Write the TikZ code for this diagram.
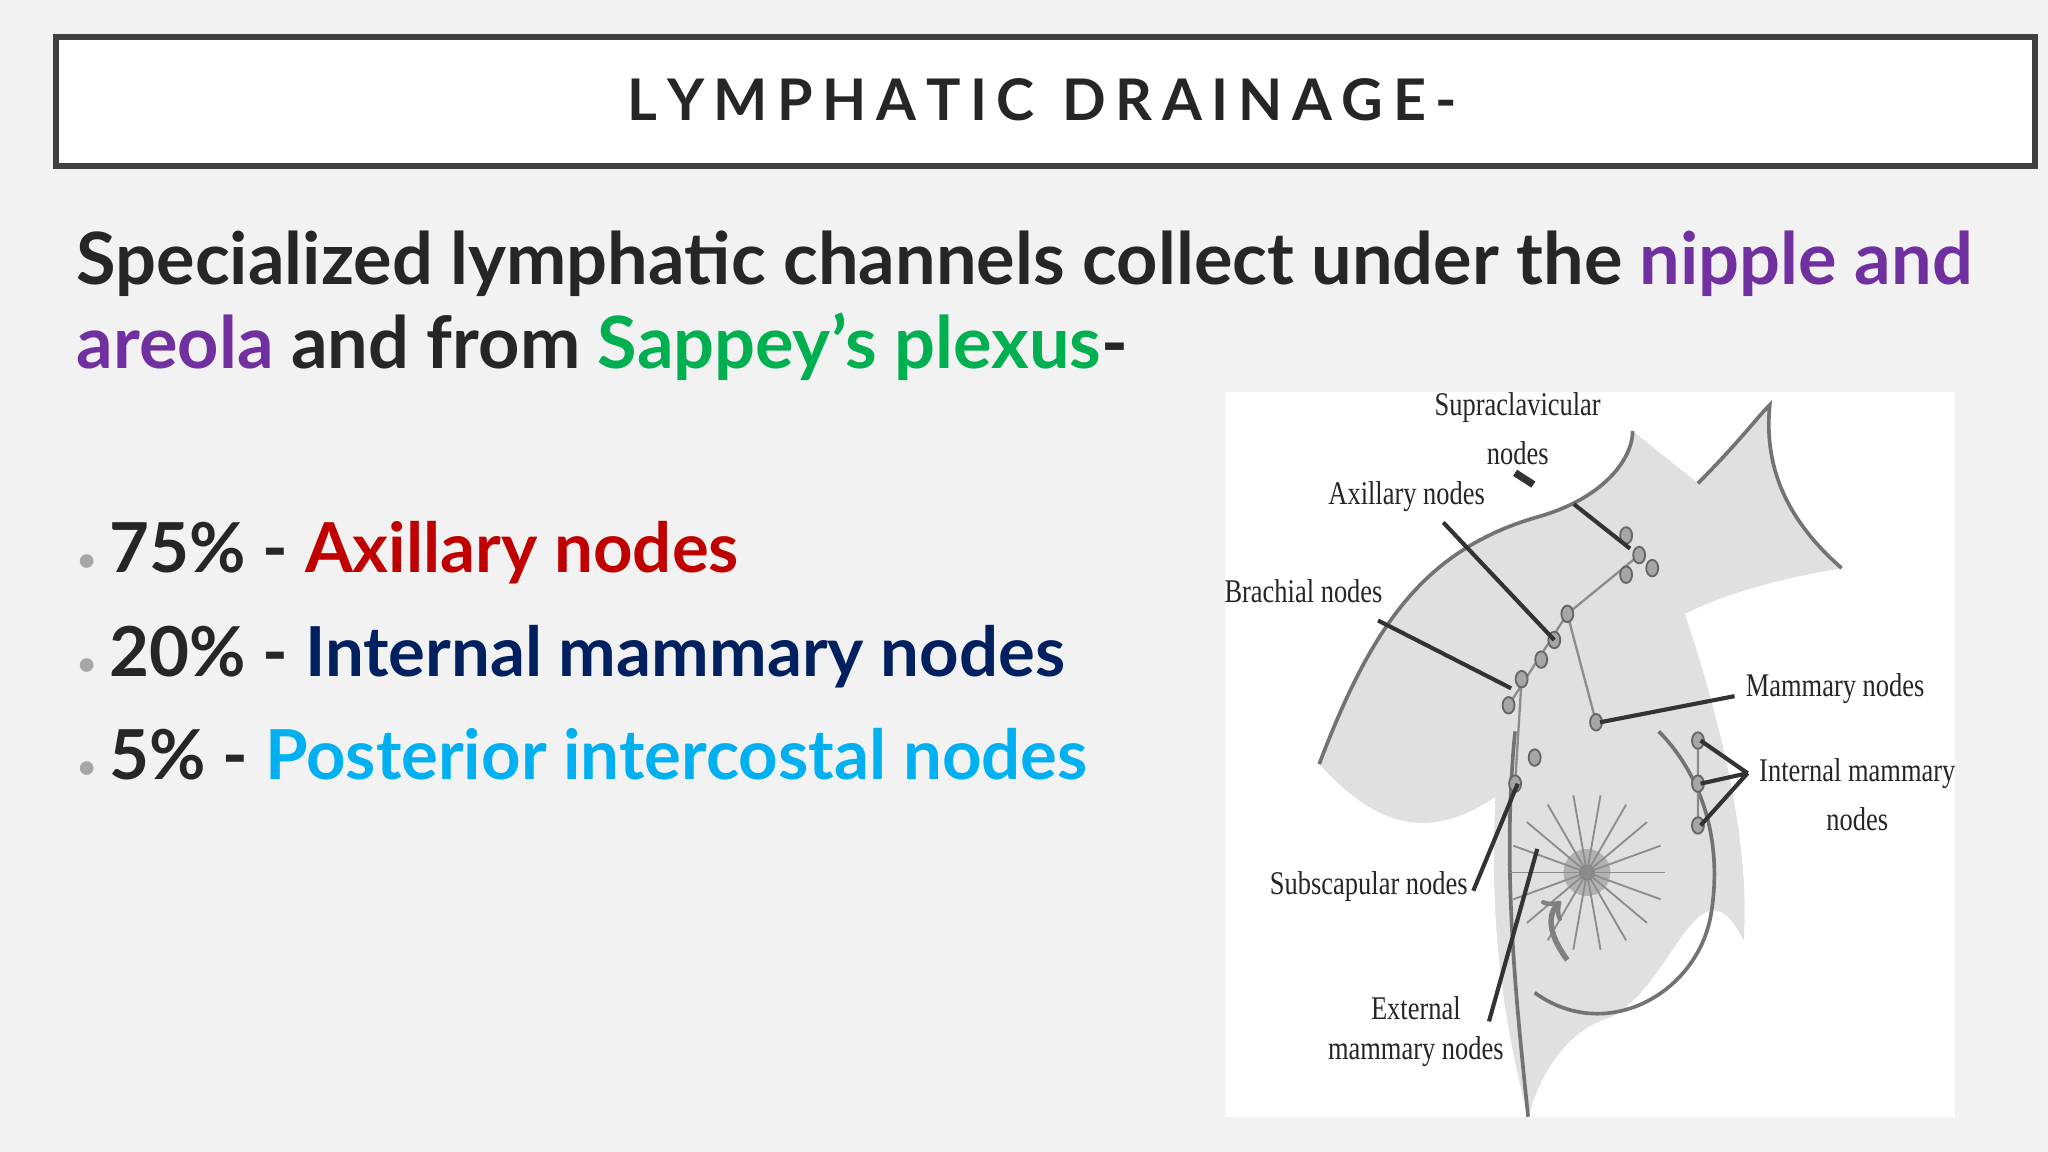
\documentclass[tikz,border=0pt]{standalone}
\usepackage{fontspec}
\usetikzlibrary{shapes.geometric}
\setmainfont{Lato}
\newfontfamily\lblfont{Liberation Serif}
\begin{document}
\begin{tikzpicture}[x=0.01cm,y=-0.01cm,
  lbl/.style={font=\lblfont\fontsize{7.2}{8}\selectfont,text=black!85,inner sep=0pt,xscale=0.8},
  lead/.style={draw=black!80,line width=0.9pt},
  lnode/.style={ellipse,draw=black!60,fill=black!35,minimum width=2.6pt,minimum height=3.6pt,inner sep=0pt},
  body/.style={draw=black!55,line width=0.8pt},
  big/.style={font=\bfseries\fontsize{15.7}{17}\selectfont,inner sep=0pt,anchor=base west},
  bul/.style={font=\bfseries\fontsize{15}{17}\selectfont,inner sep=0pt,anchor=base west}]
\useasboundingbox[fill=black!5] (0,0) rectangle (1568,882);
% title
\draw[draw=black!75,line width=1.3pt,fill=white] (43,28) rectangle (1558,127);
\node[font=\bfseries\fontsize{12.5}{14}\selectfont,text=black!85] (titletext) at (798,76) {L\,Y\,M\,P\,H\,A\,T\,I\,C\ \ D\,R\,A\,I\,N\,A\,G\,E\,-};
% text
\node[big,text=black!85] (l1) at (58,218) {Specialized lymphatic channels collect under the \textcolor[HTML]{7030A0}{nipple and}};
\node[big,text=black!85] (l2) at (58,282) {\textcolor[HTML]{7030A0}{areola} and from \textcolor[HTML]{00B050}{Sappey’s plexus}-};
\node[bul,text=black!85] (b1) at (58,438) {\textcolor{black!35}{\normalfont\footnotesize\textbullet}\,75\% - \textcolor[HTML]{C00000}{Axillary nodes}};
\node[bul,text=black!85] (b2) at (58,518) {\textcolor{black!35}{\normalfont\footnotesize\textbullet}\,20\% - \textcolor[HTML]{002060}{Internal mammary nodes}};
\node[bul,text=black!85] (b3) at (58,597) {\textcolor{black!35}{\normalfont\footnotesize\textbullet}\,5\% - \textcolor[HTML]{00B0F0}{Posterior intercostal nodes}};
% illustration
\fill[white] (938,300) rectangle (1497,855);
\fill[black!12] (1010,585) .. controls (1050,480) and (1090,420) .. (1180,395) .. controls (1230,380) and (1250,350) .. (1250,330) -- (1300,370) .. controls (1330,340) and (1345,320) .. (1355,310) .. controls (1350,360) and (1370,400) .. (1410,435) .. controls (1380,440) and (1330,450) .. (1290,470) .. controls (1320,560) and (1340,650) .. (1335,720) .. controls (1300,650) and (1280,760) .. (1230,780) .. controls (1200,790) and (1180,820) .. (1170,855) .. controls (1150,780) and (1140,700) .. (1145,610) .. controls (1100,640) and (1060,640) .. (1010,585) -- cycle;
\draw[body] (1010,585) .. controls (1050,480) and (1090,420) .. (1180,395) .. controls (1230,380) and (1250,350) .. (1250,330);
\draw[body] (1300,370) .. controls (1330,340) and (1345,320) .. (1355,310) .. controls (1350,360) and (1370,400) .. (1410,435);
\draw[body] (1160,560) .. controls (1150,660) and (1160,760) .. (1170,855);
\draw[body] (1175,760) .. controls (1230,800) and (1300,760) .. (1310,700) .. controls (1320,640) and (1300,590) .. (1270,560);
\fill[black!30] (1215,668) circle (18);
\fill[black!55] (1215,668) circle (6);
\foreach \a in {0,20,...,340}{\draw[black!45,line width=0.4pt] (1215,668) -- ++(\a:60);}
\draw[black!50,line width=1.2pt,->] (1200,735) .. controls (1185,715) and (1185,700) .. (1195,690);
% lymph nodes
\draw[black!45,line width=0.5pt] (1155,540) -- (1200,470) -- (1255,425) (1160,600) -- (1165,520) (1222,553) -- (1200,470) (1300,567) -- (1300,632);
\foreach \p in {(1245,410),(1255,425),(1265,435),(1245,440),(1200,470),(1190,490),(1180,505),(1165,520),(1155,540),(1160,600),(1175,580),(1222,553),(1300,567),(1300,600),(1300,632)}{\node[lnode] at \p {};}
% labels
\node[lbl] (sup1) at (1162,312) {Supraclavicular};
\node[lbl] (sup2) at (1162,347) {nodes};
\node[lbl] (axl) at (1077,380) {Axillary nodes};
\node[lbl] (brl) at (998,453) {Brachial nodes};
\node[lbl] (mml) at (1405,527) {Mammary nodes};
\node[lbl] (iml1) at (1422,592) {Internal mammary};
\node[lbl] (iml2) at (1422,627) {nodes};
\node[lbl] (sbl) at (1048,679) {Subscapular nodes};
\node[lbl] (exl1) at (1084,772) {External};
\node[lbl] (exl2) at (1084,805) {mammary nodes};
\coordinate (supA) at (1160,362); \coordinate (supB) at (1174,371);
\coordinate (supC) at (1205,386); \coordinate (supD) at (1248,420);
\coordinate (axA) at (1105,400); \coordinate (axB) at (1190,490);
\coordinate (brA) at (1055,475); \coordinate (brB) at (1157,527);
\coordinate (mmA) at (1328,533); \coordinate (mmB) at (1225,553);
\coordinate (imA) at (1338,592);
\coordinate (imB) at (1302,567); \coordinate (imC) at (1302,600); \coordinate (imD) at (1302,632);
\coordinate (sbA) at (1128,682); \coordinate (sbB) at (1162,600);
\coordinate (exA) at (1140,782); \coordinate (exB) at (1177,650);
\draw[lead,line width=1.6pt] (supA) -- (supB);
\draw[lead] (supC) -- (supD);
\draw[lead] (axA) -- (axB);
\draw[lead] (brA) -- (brB);
\draw[lead] (mmA) -- (mmB);
\draw[lead] (imA) -- (imB) (imA) -- (imC) (imA) -- (imD);
\draw[lead] (sbA) -- (sbB);
\draw[lead] (exA) -- (exB);
\end{tikzpicture}
\end{document}
